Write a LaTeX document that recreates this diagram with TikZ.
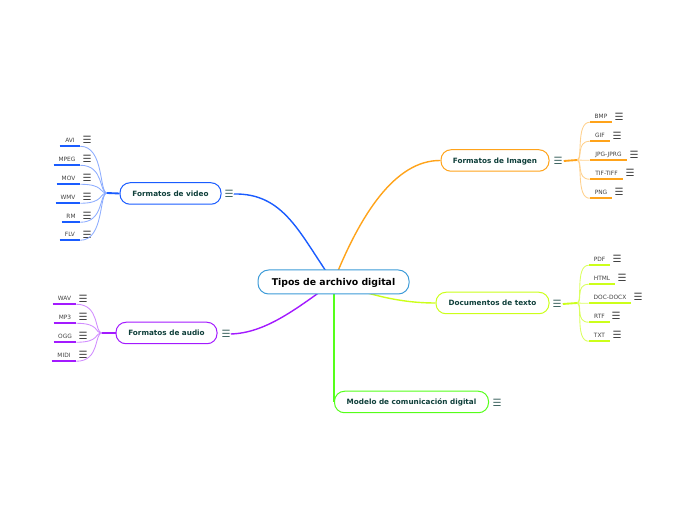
\documentclass[tikz,border=0pt]{standalone}
\usepackage{fontspec}
\setmainfont{DejaVu Sans}
\newfontfamily\iconfont{DejaVu Sans}
\usetikzlibrary{backgrounds}
\definecolor{rootblue}{HTML}{3C9BD8}
\definecolor{videoblue}{HTML}{1A5CFF}
\definecolor{imageorange}{HTML}{FFA31A}
\definecolor{textlime}{HTML}{CCFF1A}
\definecolor{audiopurple}{HTML}{A31AFF}
\definecolor{modelgreen}{HTML}{55FF1A}
\definecolor{branchtext}{HTML}{0F3F3A}
\tikzset{
	rootnode/.style = {draw = rootblue, fill = white, line width = 0.75pt, rounded corners = 8pt,
		minimum width = 0.75*151, minimum height = 0.75*24, inner sep = 0, text height = 6.5pt, text depth = 0.5pt,
		font = \bfseries\fontsize{7}{9}\selectfont},
	branchnode/.style = {draw = #1, fill = white, line width = 0.75pt, rounded corners = 7.5pt,
		minimum height = 0.75*21.5, inner sep = 0, text height = 4.75pt, text depth = 0.25pt,
		text = branchtext, font = \bfseries\fontsize{5.45}{7}\selectfont},
	leafnode/.style = {inner sep = 0, text height = 6.2pt, text depth = 2.8pt, text = black!75, font = \fontsize{4.4}{6}\selectfont},
	menuicon/.style = {inner sep = 0, yshift = -0.75pt, text = #1, font = \iconfont\fontsize{7.5}{8}\selectfont},
	mainlink/.style = {line width = 1.05pt},
	stemlink/.style = {line width = 1.4pt},
	leaflink/.style = {line width = 0.65pt},
	underline/.style = {line width = 1.2pt}
}
\begin{document}
\begin{tikzpicture}[x = 0.75pt, y = -0.75pt]
\useasboundingbox (0, 0) rectangle (697, 520);
\node[rootnode] (root) at (333.5, 282) {Tipos de archivo digital};

\node[branchnode = videoblue, minimum width = 0.75*101] (video) at (170.5, 193.5) {Formatos de video};
\node[branchnode = imageorange, minimum width = 0.75*108] (imagen) at (495, 160.5) {Formatos de Imagen};
\node[branchnode = textlime, minimum width = 0.75*113] (texto) at (492.5, 303) {Documentos de texto};
\node[branchnode = audiopurple, minimum width = 0.75*101] (audio) at (166.5, 333) {Formatos de audio};
\node[branchnode = modelgreen, minimum width = 0.75*154] (modelo) at (411.5, 402) {Modelo de comunicación digital};

\node[menuicon = branchtext!80] (videoicon) at (229, 193) {☰};
\node[menuicon = branchtext!80] (imagenicon) at (558, 160) {☰};
\node[menuicon = branchtext!80] (textoicon) at (557, 303) {☰};
\node[menuicon = branchtext!80] (audioicon) at (226, 333) {☰};
\node[menuicon = branchtext!80] (modeloicon) at (497, 402) {☰};

\coordinate (videohub) at (107, 193);
\coordinate (imagenhub) at (577, 160);
\coordinate (textohub) at (577, 303);
\coordinate (audiohub) at (102, 333);

% video
\foreach \name/\label/\xa/\xb/\y/\ix in {avi/AVI/60/80/146/139, mpeg/MPEG/54/80/165/158,
	mov/MOV/57/80/184/177, wmv/WMV/56/80/203/196, rm/RM/62/80/222/215, flv/FLV/60/80/240/234} {
	\node[leafnode, minimum width = 0.75*(\xb - \xa)] (\name) at ({(\xa + \xb) / 2}, \y - 6) {\label};
	\node[menuicon = black!75] (\name icon) at (87, \ix) {☰};
	\draw[underline, draw = videoblue] (\name.south west) -- (\name.south east);
	\draw[leaflink, videoblue!50] (\name.south east) .. controls +(24, 0) and +(-8, 0) .. (videohub);
}
% imagen
\foreach \name/\label/\xb/\y/\ix/\iy in {bmp/BMP/612/122/619/116, gif/GIF/610/141/617/135,
	jpg/JPG-JPRG/627/160/634/154, tif/TIF-TIFF/623/179/630/172, png/PNG/612/198/619/191} {
	\node[leafnode, minimum width = 0.75*(\xb - 590)] (\name) at ({(590 + \xb) / 2}, \y - 6) {\label};
	\node[menuicon = black!75] (\name icon) at (\ix, \iy) {☰};
	\draw[underline, draw = imageorange] (\name.south west) -- (\name.south east);
	\draw[leaflink, imageorange!50] (\name.south west) .. controls +(-14, 0) and +(6, 0) .. (imagenhub);
}
% texto
\foreach \name/\label/\xb/\y/\ix/\iy in {pdf/PDF/610/265/617/258, html/HTML/615/284/622/277,
	doc/DOC-DOCX/631/303/638/296, rtf/RTF/610/322/616/315, txt/TXT/610/341/617/334} {
	\node[leafnode, minimum width = 0.75*(\xb - 589)] (\name) at ({(589 + \xb) / 2}, \y - 6) {\label};
	\node[menuicon = black!75] (\name icon) at (\ix, \iy) {☰};
	\draw[underline, draw = textlime] (\name.south west) -- (\name.south east);
	\draw[leaflink, textlime!70] (\name.south west) .. controls +(-14, 0) and +(6, 0) .. (textohub);
}
% audio
\foreach \name/\label/\xa/\y/\ix in {wav/WAV/53/304/298, mp3/MP3/54/323/316, ogg/OGG/54/342/335, midi/MIDI/52/361/354} {
	\node[leafnode, minimum width = 0.75*(76 - \xa)] (\name) at ({(\xa + 76) / 2}, \y - 6) {\label};
	\node[menuicon = black!75] (\name icon) at (83, \ix) {☰};
	\draw[underline, draw = audiopurple] (\name.south west) -- (\name.south east);
	\draw[leaflink, audiopurple!50] (\name.south east) .. controls +(24, 0) and +(-8, 0) .. (audiohub);
}

\draw[stemlink, videoblue] (videohub) -- (video.west);
\draw[stemlink, imageorange] (imagenicon.east) ++(1, 0) -- (imagenhub);
\draw[stemlink, textlime] (textoicon.east) ++(1, 0) -- (textohub);
\draw[stemlink, audiopurple] (audiohub) -- (audio.west);

\begin{scope}[on background layer]
\draw[mainlink, videoblue] (root.center) .. controls (300, 235) and (285, 193) .. (videoicon.east);
\draw[mainlink, imageorange] (root.center) .. controls (360, 215) and (395, 160) .. (imagen.west);
\draw[mainlink, textlime] (root.center) .. controls (370, 295) and (400, 303) .. (texto.west);
\draw[mainlink, audiopurple] (root.center) .. controls (295, 310) and (265, 333) .. (audioicon.east);
\draw[stemlink, modelgreen] (root.south -| modelo.west) -- (modelo.west);
\end{scope}
\end{tikzpicture}
\end{document}
